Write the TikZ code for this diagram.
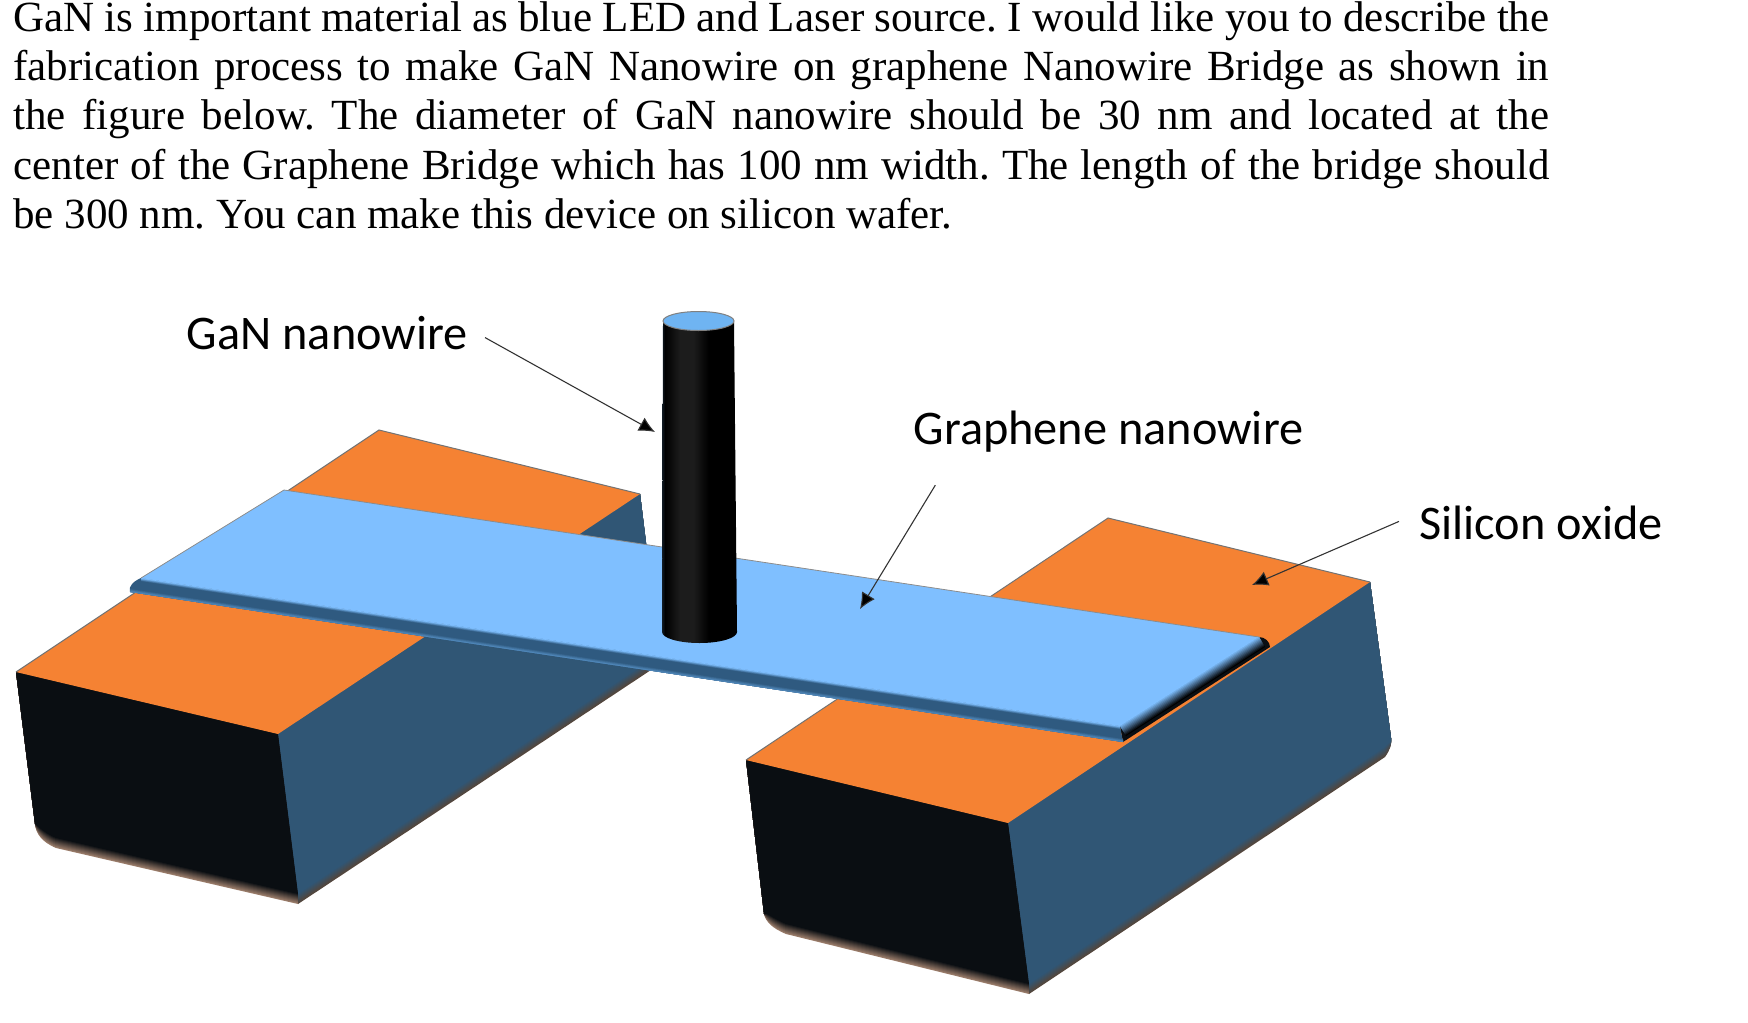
\documentclass[tikz,border=0pt]{standalone}
\usepackage{fontspec}
\setmainfont{Liberation Serif}
\newfontfamily\labelfont{Carlito}
\usetikzlibrary{positioning, arrows.meta}

\definecolor{oxidetop}{HTML}{F58233}
\definecolor{oxideside}{HTML}{305675}
\definecolor{oxidefront}{HTML}{0A0E12}
\definecolor{rimbrown}{HTML}{9A7C6A}
\definecolor{rimdark}{HTML}{54463C}
\definecolor{bridgetop}{HTML}{7FBFFF}
\definecolor{bridgeedge}{HTML}{2F5A80}
\definecolor{bridgelow}{HTML}{4F86B8}
\definecolor{wiretop}{HTML}{6FB4F2}

\pgfdeclarehorizontalshading{wireshade}{100bp}{
  color(0bp)=(black);
  color(25bp)=(black!85!wiretop);
  color(27bp)=(black);
  color(37bp)=(black!89);
  color(46bp)=(black!89);
  color(56bp)=(black);
  color(100bp)=(black)}

\tikzset{
  toplabel/.style={font=\labelfont\fontsize{24.15}{29}\selectfont, inner ysep=0pt, inner xsep=10pt},
  pointer/.style={-{Latex[length=8pt,width=7.5pt,fill=black]}, draw=black!80, line width=0.55pt},
  backedge/.style={draw=black!55, line width=0.5pt}
}

\begin{document}
\begin{tikzpicture}[x=0.5pt, y=-0.5pt]
    \useasboundingbox (0,0) rectangle (1748,1022);

    % question text
    \node (question) [anchor=north west, inner sep=0pt, text width=768pt, align=justify,
      font=\frenchspacing\fontsize{21.5}{24.65}\selectfont] at (13,1) {%
      GaN is important material as blue LED and Laser source. I would like you to describe the\linebreak
      fabrication process to make GaN Nanowire on graphene Nanowire Bridge as shown in\linebreak
      the figure below. The diameter of GaN nanowire should be 30 nm and located at the\linebreak
      center of the Graphene Bridge which has 100 nm width. The length of the bridge should\linebreak
      be 300 nm. You can make this device on silicon wafer.};

    % left block
    \coordinate (la) at (16,672);
    \coordinate (lb) at (278,734);
    \coordinate (lc) at (298,904);
    \coordinate (ld) at (640,494);
    \coordinate (le) at (379,430);
    \coordinate (lf) at (660,664);
    \foreach \p in {100,90,...,0} {
      \fill[rimdark!\p!oxideside] (lb) -- (ld) -- ([yshift={(100-\p)*0.05pt}]lf) -- ([yshift={(100-\p)*0.05pt}]lc) -- cycle;
      \fill[rimbrown!\p!oxidefront] (la) -- (lb) -- ([yshift={(100-\p)*0.05pt}]lc)
        -- ([yshift={(100-\p)*0.05pt}]56,848) .. controls ([yshift={(100-\p)*0.05pt}]42,842) and ([yshift={(100-\p)*0.05pt}]36,834) .. (35,824) -- cycle;
    }
    \fill[oxidetop] (la) -- (le) -- (ld) -- (lb) -- cycle;
    \draw[backedge] (la) -- (le) -- (ld);

    % right block
    \coordinate (ra) at (746,760);
    \coordinate (rb) at (1008,823);
    \coordinate (rc) at (1029,994);
    \coordinate (rd) at (1370,582);
    \coordinate (re) at (1108,518);
    \foreach \p in {100,90,...,0} {
      \fill[rimdark!\p!oxideside] (rb) -- (rd) -- (1391,738) .. controls (1392,744) and ([yshift={(100-\p)*0.05pt}]1390,750) .. ([yshift={(100-\p)*0.05pt}]1385,757) -- ([yshift={(100-\p)*0.05pt}]rc) -- cycle;
      \fill[rimbrown!\p!oxidefront] (ra) -- (rb) -- ([yshift={(100-\p)*0.05pt}]rc)
        -- ([yshift={(100-\p)*0.05pt}]786,934) .. controls ([yshift={(100-\p)*0.05pt}]772,928) and ([yshift={(100-\p)*0.05pt}]766,922) .. (764,914) -- cycle;
    }
    \fill[oxidetop] (ra) -- (re) -- (rd) -- (rb) -- cycle;
    \draw[backedge] (ra) -- (re) -- (rd);

    % bridge
    \coordinate (ba) at (284,490);
    \coordinate (bb) at (1259,637);
    \coordinate (bc) at (1120,726);
    \coordinate (bd) at (141,578);
    \coordinate (be) at (130,592);
    \coordinate (bf) at (1123,742);
    \fill[oxidefront] (bc) -- (bb) .. controls (1265,637) and (1270,642) .. (1270,647) -- (bf) -- cycle;
    \foreach \p in {0,10,...,100} {
      \fill[bridgetop!\p!black] (bc) -- (bb) -- ([shift={({(100-\p)*0.03pt},{(\p-100)*0.05pt})}]bb) -- ([shift={({(100-\p)*0.03pt},{(\p-100)*0.05pt})}]bc) -- cycle;
    }
    \fill[bridgeedge] (bd) .. controls (134,581) and (128,586) .. (be) -- (bf) -- (bc) -- cycle;
    \foreach \p in {25,50,75,100} {
      \fill[bridgelow!\p!bridgeedge] (be) -- (bf) -- ([yshift={(125-\p)*0.015pt}]bf) -- ([yshift={(125-\p)*0.015pt}]be) -- cycle;
    }
    \foreach \p in {20,40,...,100} {
      \fill[bridgetop!\p!bridgeedge] (bd) -- (bc) -- ([yshift={(\p-120)*0.015pt}]bc) -- ([yshift={(\p-120)*0.015pt}]bd) -- cycle;
    }
    \fill[bridgetop] (ba) -- (bb) -- (bc) -- (bd) -- cycle;
    \draw[black!45, line width=0.4pt] (bd) -- (ba) -- (bb);

    % nanowire
    \shade[shading=wireshade] (663,322) -- (662,632) arc[start angle=180, end angle=0, x radius=37.5, y radius=11] -- (734,322) -- cycle;
    \draw[fill=wiretop, draw=black!50, line width=0.5pt] (698.5,321) ellipse[x radius=35.5, y radius=9.5];

    % labels
    \node (gan) [toplabel, inner xsep=8.5pt, anchor=base east] at (485,349) {GaN nanowire};
    \node (graphene) [toplabel, anchor=base] at (1108.5,444) {Graphene nanowire};
    \node (oxide) [toplabel, anchor=base west] at (1399,539) {Silicon oxide};

    \coordinate (gantip) at (655,432);
    \coordinate (graphenetip) at (860,609);
    \coordinate (oxidetip) at (1252,585);

    \draw[pointer] ([yshift=-2.5pt]gan.east) -- (gantip);
    \draw[pointer] ([shift={(21pt,-16.5pt)}]graphene.south west) -- (graphenetip);
    \draw[pointer] ([yshift=0.5pt]oxide.west) -- (oxidetip);
\end{tikzpicture}
\end{document}
